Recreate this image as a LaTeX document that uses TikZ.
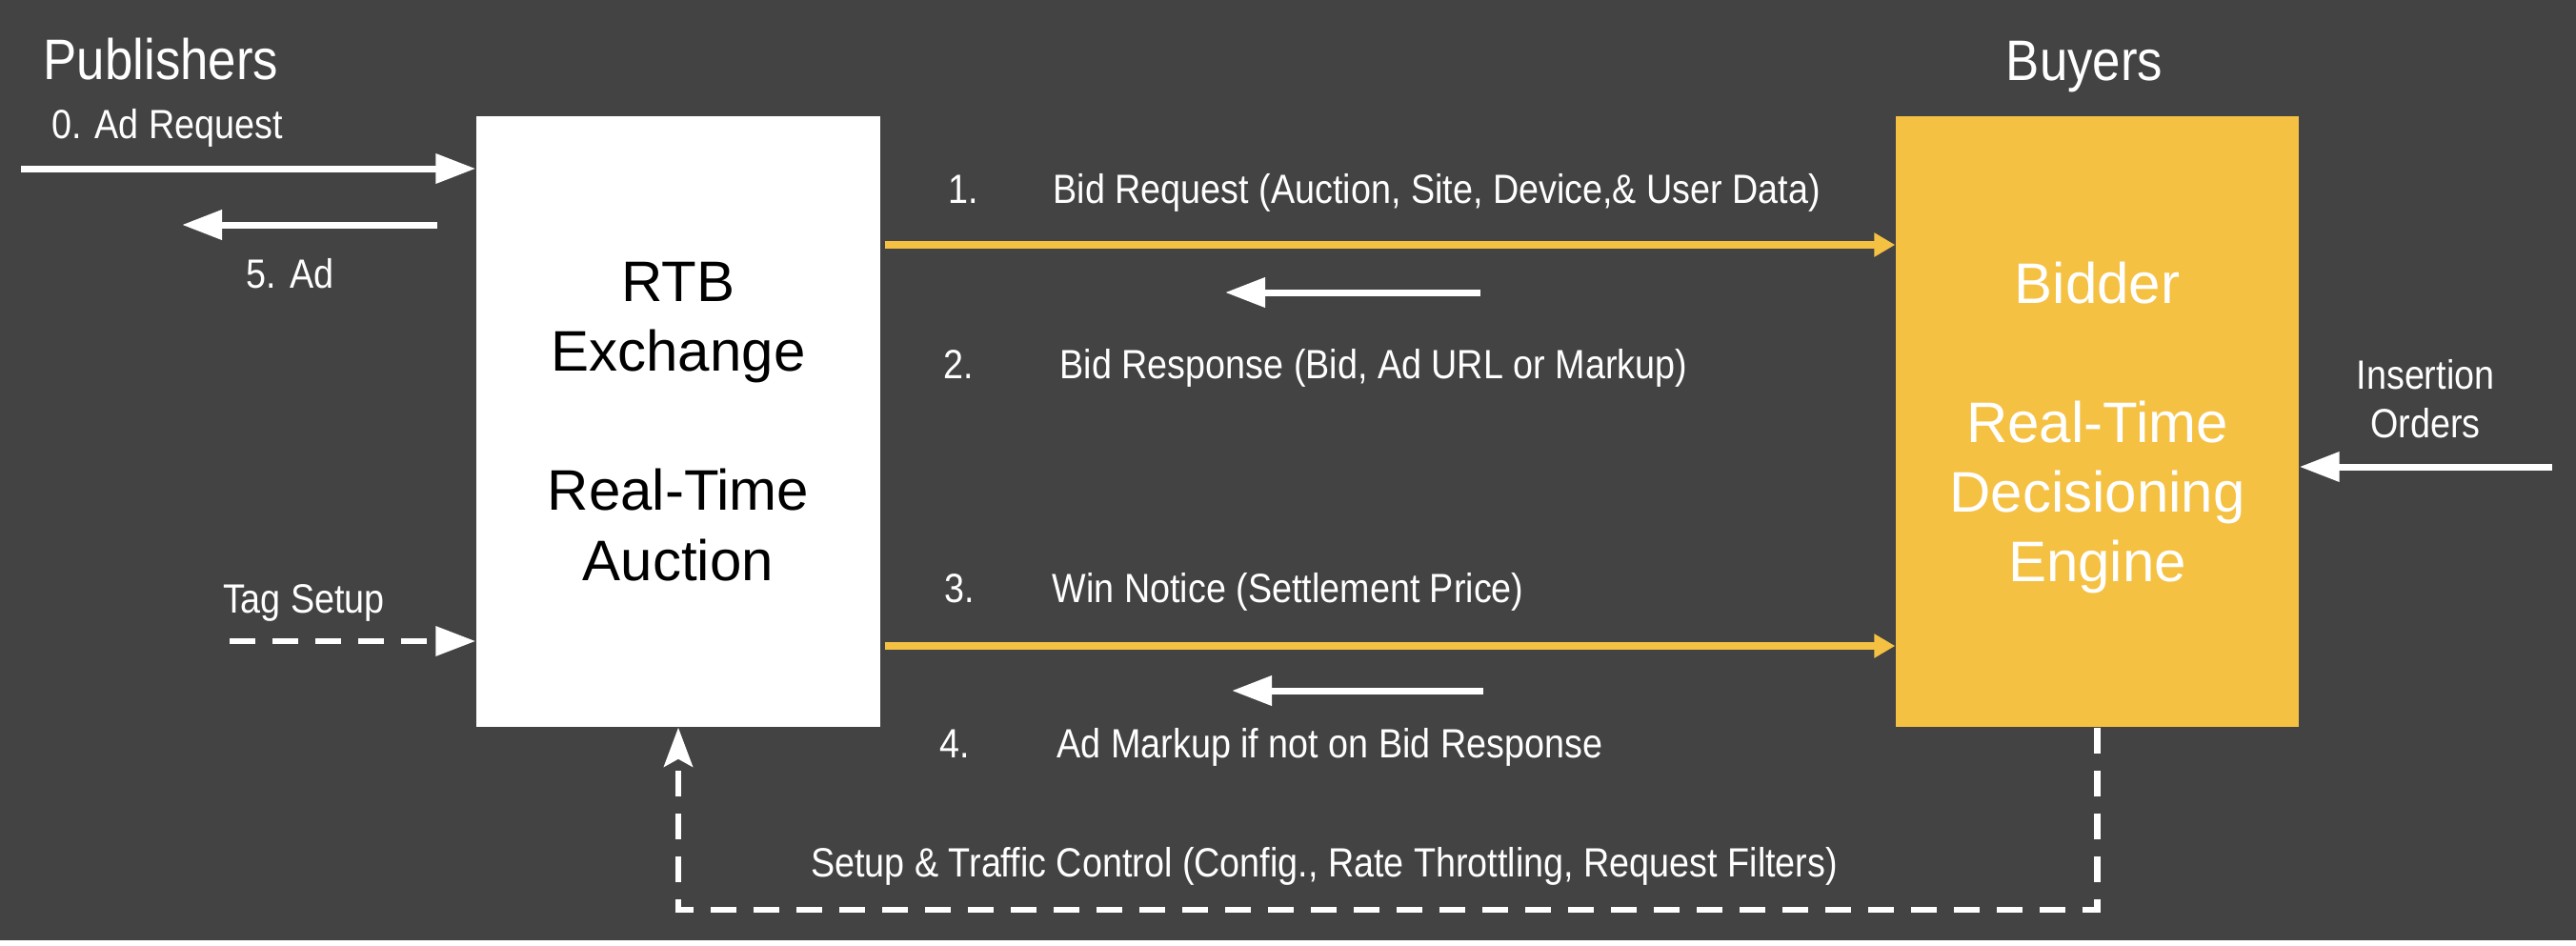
\documentclass[tikz,border=0pt]{standalone}
\usepackage{fontspec}
\setmainfont{Liberation Sans}
\newfontfamily\labelfont[FakeStretch=0.88]{Liberation Sans}
\usepackage{tikz}
\usetikzlibrary{arrows.meta}
\definecolor{bgdark}{HTML}{434343}
\definecolor{bidyellow}{HTML}{F5C143}

\begin{document}
\begin{tikzpicture}[
    whitearrow/.style={white, line width=0.07cm, -{Triangle[length=0.42cm, width=0.30cm]}},
    yellowarrow/.style={bidyellow, line width=0.075cm, -{Triangle[length=0.22cm, width=0.24cm]}},
    dashline/.style={white, line width=0.065cm, dash pattern=on 0.27cm off 0.18cm},
    boxtext/.style={font=\fontsize{17.07pt}{20.8pt}\selectfont, align=center, inner sep=0pt},
    lbl/.style={white, font=\labelfont\fontsize{12.2pt}{14.5pt}\selectfont, inner sep=0pt},
    title/.style={white, font=\labelfont\fontsize{17.07pt}{20pt}\selectfont, inner sep=0pt}
]
    %LATAR
    \useasboundingbox (0,0) rectangle (27.04,9.92);
    \fill[white] (0,0) rectangle (27.04,9.92);
    \fill[bgdark] (0,0.05) rectangle (27.04,9.92);
    %KOTAK
    \node[fill=white, minimum width=4.24cm, minimum height=6.41cm, boxtext] (rtb) at (7.12,5.495)
        {RTB\\Exchange\\[20.8pt]Real-Time\\Auction};
    \node[fill=bidyellow, text=white, minimum width=4.23cm, minimum height=6.41cm, text depth=0pt, boxtext] (bidder) at (22.015,5.495)
        {Bidder\\[20.8pt]Real-Time\\Decisioning\\Engine};
    %JUDUL
    \node[title, anchor=base west] (pub) at (0.45,9.09) {Publishers};
    \node[title, anchor=base] (buy) at (21.88,9.07) {Buyers};
    %PUBLISHER
    \coordinate (adreq) at (0.22,8.15);
    \draw[whitearrow] (adreq) -- (rtb.west |- adreq) node[lbl, pos=0.06, anchor=base west, yshift=0.32cm] (l0) {0. Ad Request};
    \coordinate (adstart) at (4.59,7.56);
    \coordinate (adend) at (1.91,7.56);
    \draw[whitearrow] (adstart) -- (adend);
    \node[lbl, anchor=base west] (l5) at (2.58,6.90) {5. Ad};
    \coordinate (tag) at (2.41,3.19);
    \draw[dashline, -{Triangle[length=0.42cm, width=0.30cm]}] (tag) -- (rtb.west |- tag);
    \node[lbl, anchor=base] (ltag) at (3.19,3.49) {Tag Setup};
    %BID REQUEST & WIN NOTICE
    \draw[yellowarrow] ([xshift=0.04cm]rtb.east |- 0,7.35) -- (bidder.west |- 0,7.35);
    \draw[yellowarrow] ([xshift=0.04cm]rtb.east |- 0,3.14) -- (bidder.west |- 0,3.14);
    \node[lbl, anchor=base west] (n1) at (9.95,7.79) {1.};
    \node[lbl, anchor=base west] (t1) at (11.05,7.79) {Bid Request (Auction, Site, Device,\& User Data)};
    \node[lbl, anchor=base west] (n3) at (9.91,3.60) {3.};
    \node[lbl, anchor=base west] (t3) at (11.04,3.60) {Win Notice (Settlement Price)};
    %RESPONSE & MARKUP
    \coordinate (respstart) at (15.54,6.85);
    \coordinate (respend) at (12.86,6.85);
    \draw[whitearrow] (respstart) -- (respend);
    \node[lbl, anchor=base west] (n2) at (9.90,5.95) {2.};
    \node[lbl, anchor=base west] (t2) at (11.12,5.95) {Bid Response (Bid, Ad URL or Markup)};
    \coordinate (markstart) at (15.57,2.67);
    \coordinate (markend) at (12.93,2.67);
    \draw[whitearrow] (markstart) -- (markend);
    \node[lbl, anchor=base west] (n4) at (9.86,1.97) {4.};
    \node[lbl, anchor=base west] (t4) at (11.09,1.97) {Ad Markup if not on Bid Response};
    %INSERTION ORDERS
    \coordinate (ins) at (26.79,5.02);
    \draw[whitearrow] (ins) -- (bidder.east |- ins);
    \node[lbl, align=center, anchor=base] (lins) at (25.46,5.33) {Insertion\\Orders};
    %SETUP & TRAFFIC
    \draw[dashline, -{Stealth[length=0.41cm, width=0.30cm, inset=0.08cm]}]
        (bidder.south) |- (rtb.south |- 0,0.37) -- (rtb.south);
    \node[lbl, anchor=base] (setup) at (13.90,0.72) {Setup \& Traffic Control (Config., Rate Throttling, Request Filters)};
\end{tikzpicture}
\end{document}
